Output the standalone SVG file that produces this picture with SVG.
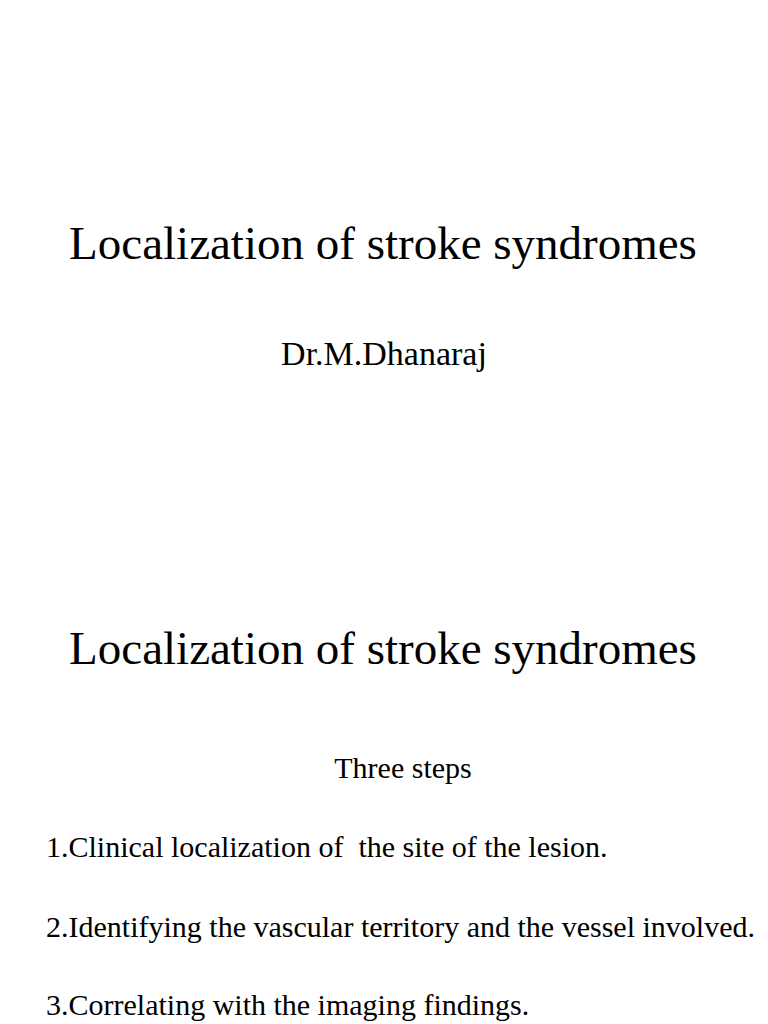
<svg xmlns="http://www.w3.org/2000/svg" width="768" height="1024" viewBox="0 0 768 1024">
<style>
text{font-family:"Liberation Serif","Times New Roman",serif;fill:#000}
.t{font-size:47px;text-anchor:middle}
.s{font-size:30px}
</style>
<rect width="768" height="1024" fill="#fff"/>
<text class="t" x="383" y="259">Localization of stroke syndromes</text>
<text x="384" y="365" font-size="34" text-anchor="middle">Dr.M.Dhanaraj</text>
<text class="t" x="383" y="664">Localization of stroke syndromes</text>
<text class="s" x="403" y="778" text-anchor="middle">Three steps</text>
<text class="s" x="46" y="857" xml:space="preserve">1.Clinical localization of  the site of the lesion.</text>
<text class="s" x="46" y="937">2.Identifying the vascular territory and the vessel involved.</text>
<text class="s" x="46" y="1015">3.Correlating with the imaging findings.</text>
</svg>
